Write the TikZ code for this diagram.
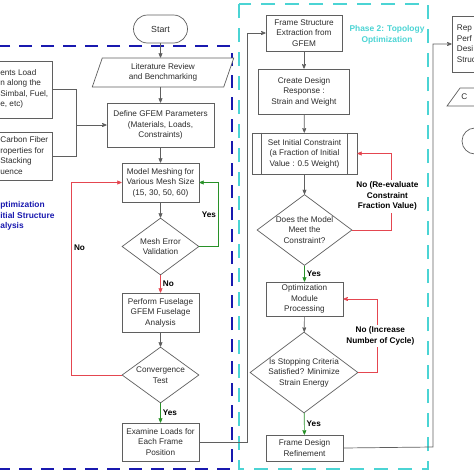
\documentclass[tikz,border=0pt]{standalone}
\usepackage{fontspec}
\setmainfont{Liberation Sans}
\usetikzlibrary{arrows}
\usetikzlibrary{shapes.geometric}
\usetikzlibrary{positioning}
\definecolor{linegray}{RGB}{95,95,95}
\definecolor{textgray}{RGB}{45,45,45}
\definecolor{redline}{RGB}{228,70,80}
\definecolor{greenline}{RGB}{40,145,40}
\definecolor{phaseblue}{RGB}{25,25,175}
\definecolor{phasecyan}{RGB}{75,212,212}

\begin{document}
\begin{tikzpicture}[x=1pt,y=-1pt,->,>=stealth',auto,line width=0.7pt,
    box node/.style={rectangle,draw=linegray,fill=white,text=textgray,align=center,font=\fontsize{8.2}{10.5}\selectfont,inner sep=1pt},
    dec node/.style={diamond,draw=linegray,fill=white,text=textgray,align=center,font=\fontsize{8.2}{10.5}\selectfont,inner sep=0pt},
    io node/.style={trapezium,trapezium left angle=76,trapezium right angle=104,trapezium stretches=true,draw=linegray,fill=white,text=textgray,align=center,font=\fontsize{8.2}{10.5}\selectfont},
    cut text/.style={anchor=west,align=left,text=textgray,font=\fontsize{8.2}{10.5}\selectfont,inner sep=0pt},
    yes label/.style={font=\bfseries\fontsize{8.2}{10.5}\selectfont,text=black,inner sep=2pt,align=center},
    link/.style={draw=linegray},
    red link/.style={draw=redline},
    green link/.style={draw=greenline}]
   \useasboundingbox (0,0) rectangle (474,474);
   \clip (0,0) rectangle (474,474);
   % phase frames
   \draw[-,draw=phaseblue,line width=2.6pt,dash pattern=on 13pt off 9pt] (-20,46) rectangle (232,469);
   \draw[-,draw=phasecyan,line width=2pt,dash pattern=on 14pt off 10pt] (239,4) rectangle (428,469);
   \node[cut text,font=\bfseries\fontsize{8.4}{10.5}\selectfont,text=phaseblue] (ph1) at (0,216) {ptimization\\itial Structure\\alysis};
   \node[font=\bfseries\fontsize{8.4}{10.5}\selectfont,text=phasecyan,align=center] (ph2) at (387,35) {Phase 2: Topology\\Optimization};
   \begin{scope}
     % phase 1 column
     \node[box node,rounded corners=14pt,minimum width=54,minimum height=28,font=\fontsize{8.8}{10.5}\selectfont] (start) at (160.5,29) {Start};
     \node[io node,minimum width=142,minimum height=29] (lit) at (163,72.5) {Literature Review\\and Benchmarking};
     \node[box node,minimum width=107,minimum height=44] (def) at (160.5,125) {Define GFEM Parameters\\(Materials, Loads,\\Constraints)};
     \node[box node,minimum width=72,minimum height=57] (lda) at (16,89.5) {};
     \node[cut text] (ldatext) at (0,89) {ents Load\\n along the\\Simbal, Fuel,\\e, etc)};
     \node[box node,minimum width=72,minimum height=48] (cfp) at (16,156) {};
     \node[cut text] (cfptext) at (0,155.5) {Carbon Fiber\\roperties for\\Stacking\\uence};
     \node[box node,minimum width=77,minimum height=39] (mesh) at (160.5,182.5) {Model Meshing for\\Various Mesh Size\\(15, 30, 50, 60)};
     \node[dec node,aspect=1.35,minimum width=77,minimum height=57] (merr) at (160.5,246.5) {Mesh Error\\Validation};
     \node[box node,minimum width=77,minimum height=39] (perf) at (160.5,312.5) {Perform Fuselage\\GFEM Fuselage\\Analysis};
     \node[dec node,aspect=1.38,minimum width=77,minimum height=56] (conv) at (160.5,375) {Convergence\\Test};
     \node[box node,minimum width=77,minimum height=38] (exam) at (160.5,442) {Examine Loads for\\Each Frame\\Position};
     % phase 2 column
     \node[box node,minimum width=76,minimum height=36] (fse) at (304,33) {Frame Structure\\Extraction from\\GFEM};
     \node[box node,minimum width=91,minimum height=45] (cdr) at (304,91.5) {Create Design\\Response :\\Strain and Weight};
     \node[box node,minimum width=105,minimum height=41] (sic) at (304.5,153.5) {Set Initial Constraint\\(a Fraction of Initial\\Value : 0.5 Weight)};
     \node[dec node,aspect=1.34,minimum width=95,minimum height=71] (dtm) at (304.5,230) {Does the Model\\Meet the\\Constraint?};
     \node[box node,minimum width=77,minimum height=34] (omp) at (304.5,299) {Optimization\\Module\\Processing};
     \node[dec node,aspect=1.33,minimum width=108,minimum height=81,inner sep=-2.5pt] (sce) at (304,372.5) {Is Stopping Criteria\\Satisfied? Minimize\\Strain Energy};
     \node[box node,minimum width=77,minimum height=26] (fdr) at (304.5,448) {Frame Design\\Refinement};
     % phase 3 column (cut off)
     \node[box node,minimum width=68,minimum height=56] (rps) at (486,44) {};
     \node[cut text] (rpstext) at (456.5,43.5) {Rep\\Perf\\Desi\\Struc};
     \node[io node,trapezium left angle=69,trapezium right angle=111,minimum width=60,minimum height=18] (outr) at (477,97) {};
     \node[cut text] (outrtext) at (461,97) {C};
     \node[circle,draw=linegray,minimum size=26] (endr) at (475,141) {};
   \end{scope}
   % connectors phase 1
   \coordinate (jn) at (76,125);
   \coordinate (c1) at (247,442);
   \coordinate (c2) at (433,447);
   \draw[link] (start) -- (start |- lit.north);
   \draw[link] (def.north |- lit.south) -- (def);
   \draw[link,-] (lda.east) -| (jn);
   \draw[link,-] (cfp.east) -| (jn);
   \draw[link] (jn) -- (def.west);
   \draw[link] (def) -- (mesh);
   \draw[link] (mesh) -- (merr);
   \draw[green link] (merr.east) -- ++(19,0) |- (mesh.east) node[yes label,pos=0.25,left] {Yes};
   \draw[red link] (merr) -- node[yes label,right] {No} (perf);
   \draw[link] (perf) -- (conv);
   \draw[red link] (conv.west) -- ++(-50,0) |- (mesh.west) node[yes label,pos=0.33,right] {No};
   \draw[green link] (conv) -- node[yes label,right] {Yes} (exam);
   \draw[link] (exam.east) -- (c1) |- (fse.west);
   % connectors phase 2
   \draw[link] (fse) -- (cdr);
   \draw[link] (cdr) -- (sic);
   \draw[link] (sic) -- (dtm);
   \draw[-,draw=linegray] ([xshift=10pt]sic.north west) -- ([xshift=10pt]sic.south west);
   \draw[-,draw=linegray] ([xshift=-10pt]sic.north east) -- ([xshift=-10pt]sic.south east);
   \draw[red link] (dtm.east) -- ++(39,0) |- (sic.east) node[yes label,pos=0.22,anchor=center,fill=white,xshift=-4pt] {No (Re-evaluate\\Constraint\\Fraction Value)};
   \draw[green link] (dtm) -- node[yes label,right] {Yes} (omp);
   \draw[link] (omp) -- (sce);
   \draw[red link] (sce.east) -- ++(19,0) |- (omp.east) node[yes label,pos=0.25,anchor=center,fill=white,xshift=3pt] {No (Increase\\Number of Cycle)};
   \draw[green link] (sce) -- node[yes label,right] {Yes} (fdr);
   \draw[link] (fdr.east) -- (c2) |- (rps.west);
\end{tikzpicture}
\end{document}
